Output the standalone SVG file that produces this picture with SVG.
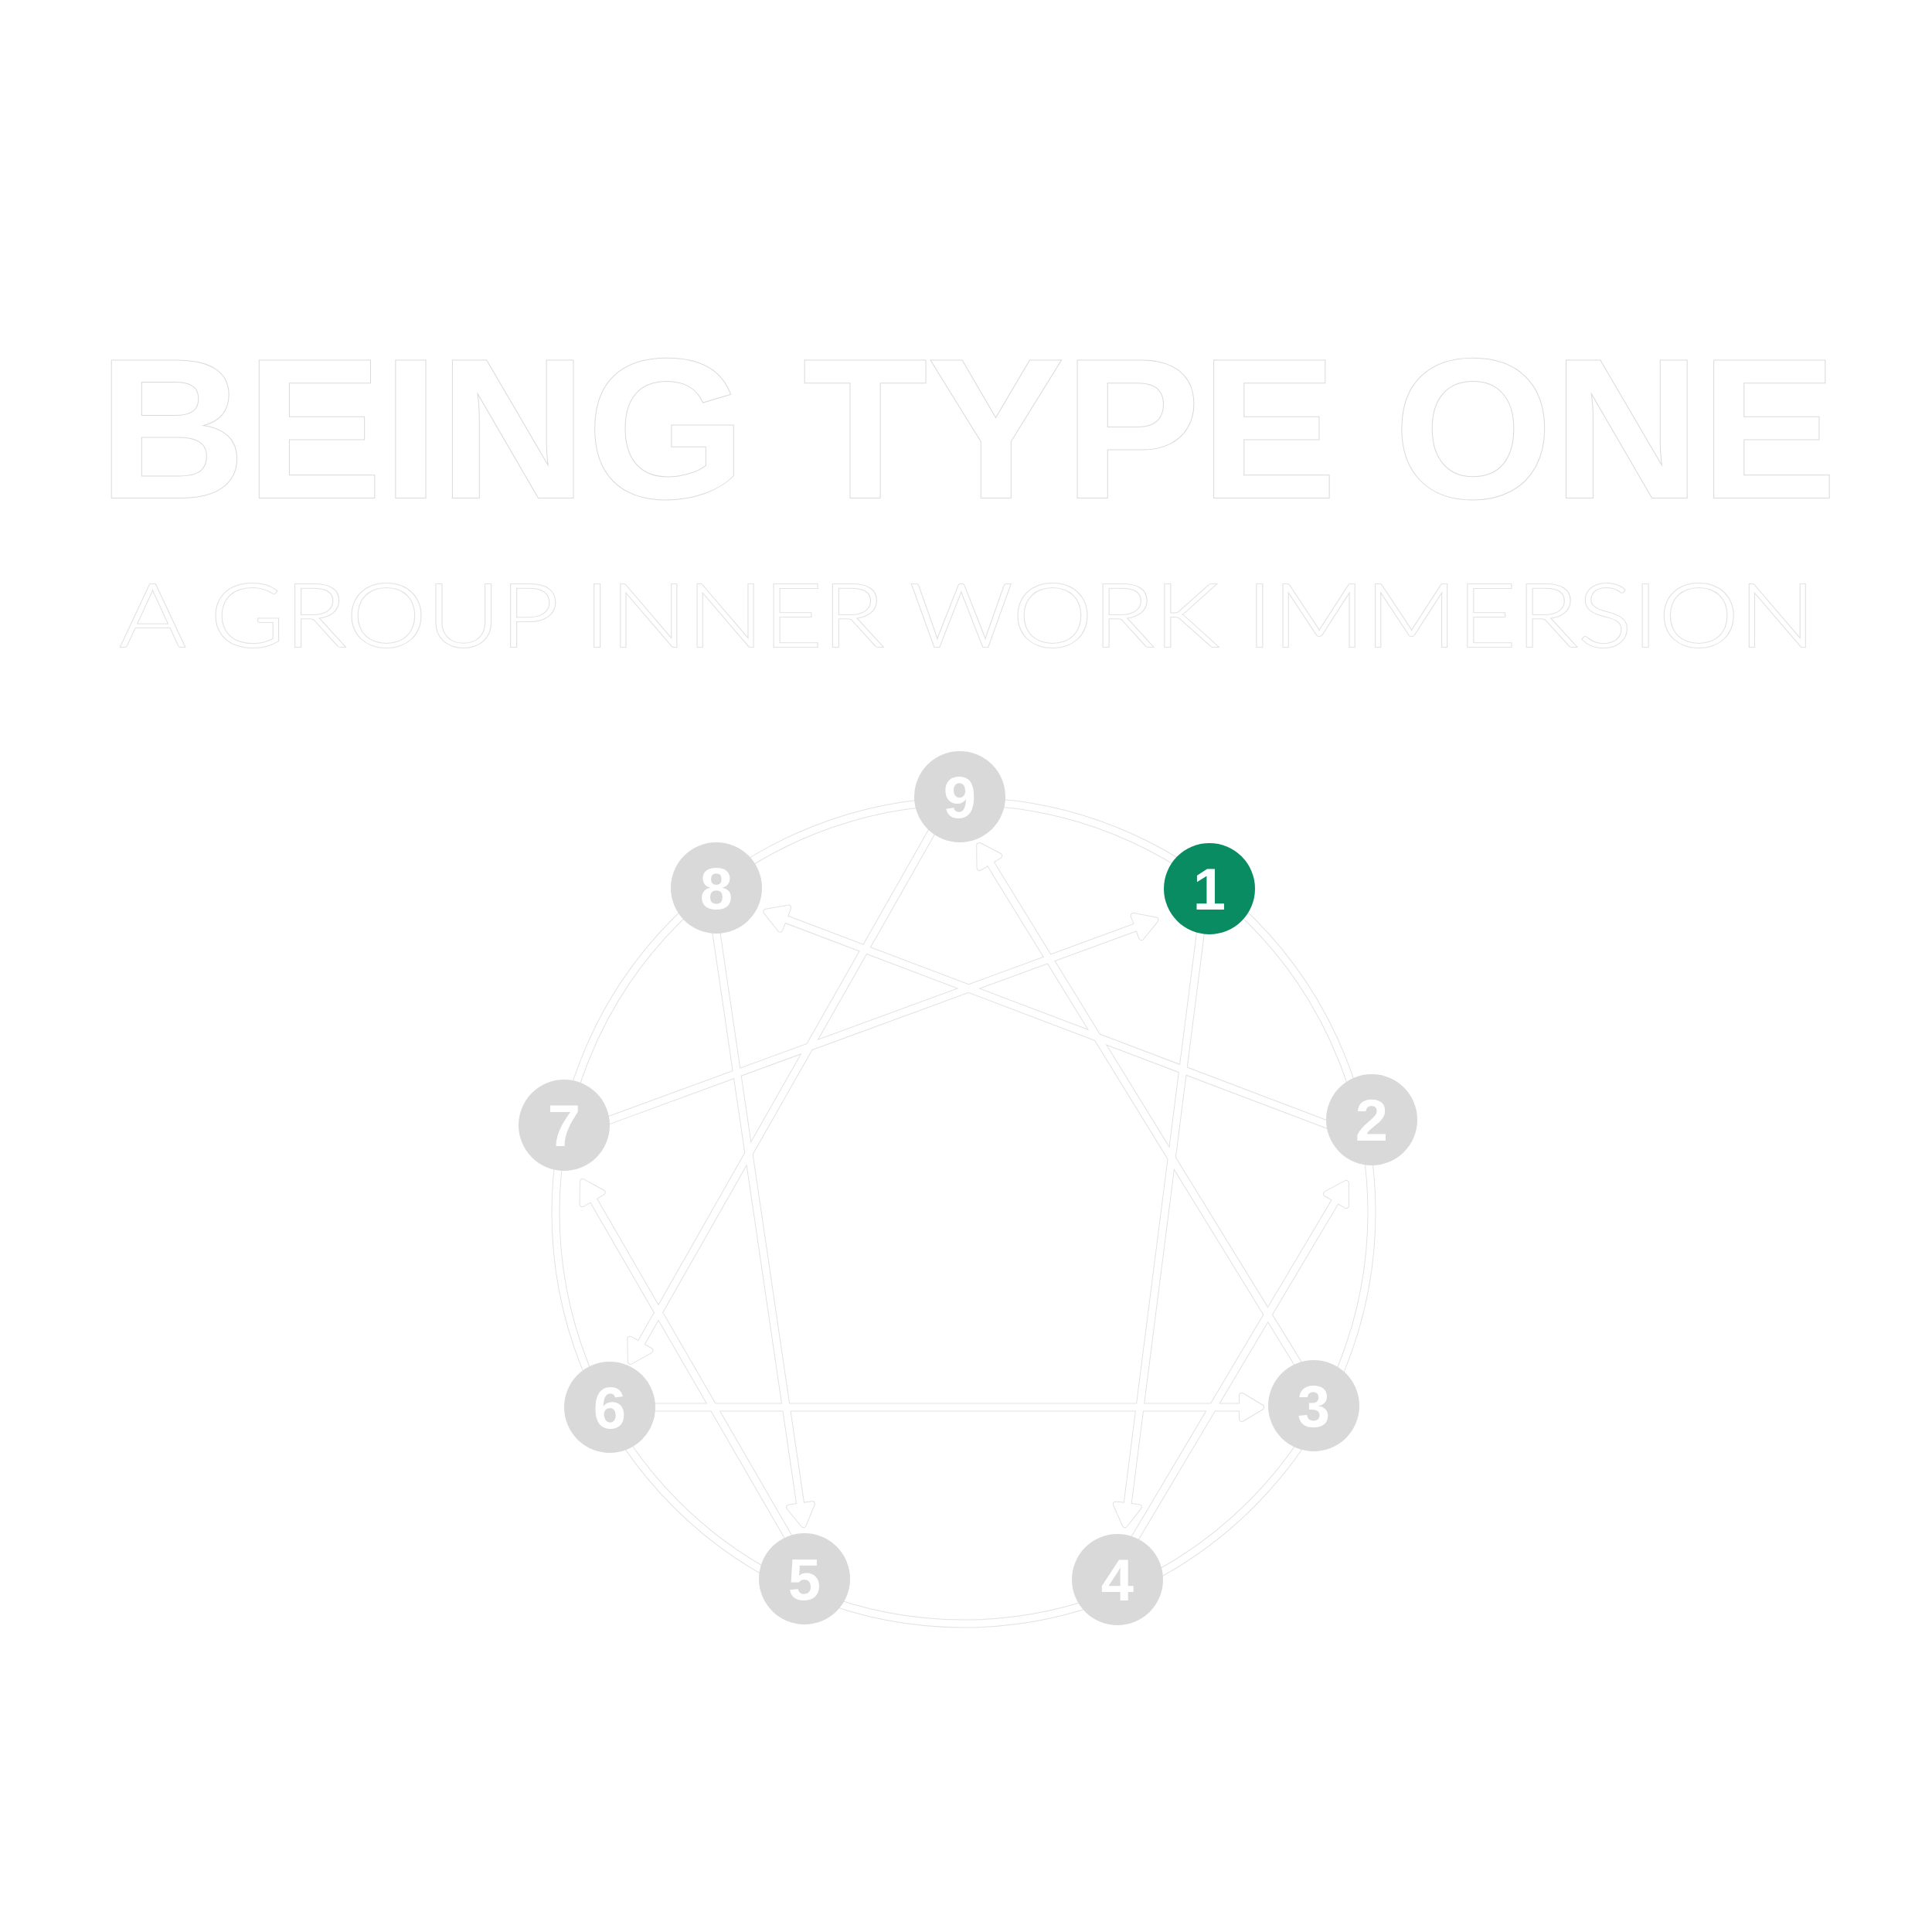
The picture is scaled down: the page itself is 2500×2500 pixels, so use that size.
<svg xmlns="http://www.w3.org/2000/svg" width="2500" height="2500" viewBox="0 0 2500 2500">
  <style>
    .ring-o, .edge-o { fill: none; stroke: #e2e2e2; stroke-width: 11; }
    .ring-i, .edge-i { fill: none; stroke: #ffffff; stroke-width: 9; }
    .edge-o { marker-end: url(#ah-o); }
    .edge-i { marker-end: url(#ah-i); }
    .node circle { fill: #d9d9d9; }
    .node.active circle { fill: #098c62; }
    .node text { font-family: "Liberation Sans", Arial, sans-serif; font-weight: 700; font-size: 76px; fill: #ffffff; text-anchor: middle; }
    .title { font-family: "Liberation Sans", Arial, sans-serif; font-weight: 700; fill: #ffffff; stroke: #dadada; stroke-width: 2; paint-order: stroke; text-anchor: middle; }
    .subtitle { font-family: Lato, "Open Sans", "Liberation Sans", sans-serif; font-weight: 300; fill: #ffffff; stroke: #e2e2e2; stroke-width: 2; paint-order: stroke; text-anchor: middle; }
  </style>
  <defs>
    <marker id="ah-o" markerUnits="userSpaceOnUse" orient="auto" refX="0" refY="0" markerWidth="60" markerHeight="60" overflow="visible">
      <path d="M0,-15 L25,0 L0,15 Z" fill="#e2e2e2" stroke="#e2e2e2" stroke-width="8" stroke-linejoin="round"/>
    </marker>
    <marker id="ah-i" markerUnits="userSpaceOnUse" orient="auto" refX="0" refY="0" markerWidth="60" markerHeight="60" overflow="visible">
      <path d="M0,-15 L25,0 L0,15 Z" fill="#ffffff" stroke="#ffffff" stroke-width="6" stroke-linejoin="round"/>
    </marker>
  </defs>
  <rect width="2500" height="2500" fill="#ffffff"/>

  <g id="heading">
    <text class="title" x="1252" y="644" font-size="258" textLength="2250" lengthAdjust="spacingAndGlyphs">BEING TYPE ONE</text>
    <text class="subtitle" x="1252" y="837" font-size="114" textLength="2195" lengthAdjust="spacingAndGlyphs">A GROUP INNER WORK IMMERSION</text>
  </g>

  <g id="connectors">
    <ellipse class="ring-o" cx="1247" cy="1569" rx="528" ry="532"/>
    <path class="edge-o" d="M770,1456.2 L1471.9,1199"/>
    <path class="edge-o" d="M1734,1461.4 L1014.8,1188.6"/>
    <path class="edge-o" d="M1688.5,1779 L1280.3,1115.2"/>
    <path class="edge-o" d="M1212.9,1063.6 L828.3,1740.1"/>
    <path class="edge-o" d="M924.6,1191.2 L1036,1948.3"/>
    <path class="edge-o" d="M1555.8,1188.5 L1458.8,1948.3"/>
    <path class="edge-o" d="M810,1821 L1607,1821"/>
    <path class="edge-o" d="M1031.5,2008.6 L766.5,1550.6"/>
    <path class="edge-o" d="M1457.9,2008.5 L1729.1,1552.4"/>

    <ellipse class="ring-i" cx="1247" cy="1569" rx="528" ry="532"/>
    <path class="edge-i" d="M770,1456.2 L1471.9,1199"/>
    <path class="edge-i" d="M1734,1461.4 L1014.8,1188.6"/>
    <path class="edge-i" d="M1688.5,1779 L1280.3,1115.2"/>
    <path class="edge-i" d="M1212.9,1063.6 L828.3,1740.1"/>
    <path class="edge-i" d="M924.6,1191.2 L1036,1948.3"/>
    <path class="edge-i" d="M1555.8,1188.5 L1458.8,1948.3"/>
    <path class="edge-i" d="M810,1821 L1607,1821"/>
    <path class="edge-i" d="M1031.5,2008.6 L766.5,1550.6"/>
    <path class="edge-i" d="M1457.9,2008.5 L1729.1,1552.4"/>
  </g>

  <g id="node-9" class="node"><circle cx="1242" cy="1031" r="59"/><text x="1242" y="1058">9</text></g>
  <g id="node-1" class="node active"><circle cx="1565" cy="1150" r="59"/><text x="1565" y="1177">1</text></g>
  <g id="node-2" class="node"><circle cx="1775" cy="1449" r="59"/><text x="1775" y="1476">2</text></g>
  <g id="node-3" class="node"><circle cx="1700" cy="1819" r="59"/><text x="1700" y="1846">3</text></g>
  <g id="node-4" class="node"><circle cx="1446" cy="2044" r="59"/><text x="1446" y="2071">4</text></g>
  <g id="node-5" class="node"><circle cx="1041" cy="2043" r="59"/><text x="1041" y="2070">5</text></g>
  <g id="node-6" class="node"><circle cx="789" cy="1821" r="59"/><text x="789" y="1848">6</text></g>
  <g id="node-7" class="node"><circle cx="730" cy="1456" r="59"/><text x="730" y="1483">7</text></g>
  <g id="node-8" class="node"><circle cx="927" cy="1149" r="59"/><text x="927" y="1176">8</text></g>
</svg>
